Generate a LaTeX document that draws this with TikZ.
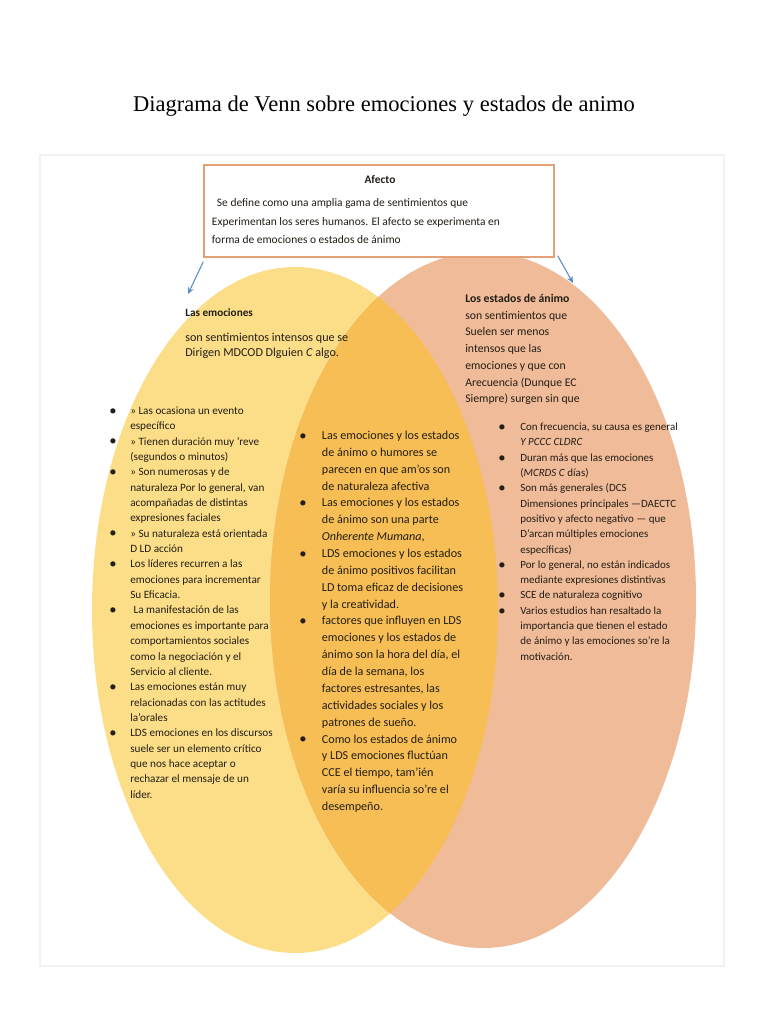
\documentclass[tikz,border=0pt]{standalone}
\usepackage{fontspec}
\setmainfont{Carlito}
\newfontfamily\titlefont{Liberation Serif}
\usetikzlibrary{arrows.meta}
\definecolor{yel}{RGB}{252,222,136}
\definecolor{sal}{RGB}{240,187,152}
\definecolor{midc}{RGB}{246,190,84}
\definecolor{boxline}{RGB}{228,160,118}
\definecolor{arrowc}{RGB}{91,140,196}
\definecolor{txt}{RGB}{35,30,22}
\definecolor{framec}{RGB}{242,242,244}
\newcommand{\bl}{\raisebox{-0.6pt}{\fontsize{11}{11}\selectfont\textbullet}}
\tikzset{
  txtblock/.style={anchor=base west, inner sep=0pt, text=txt},
  conn/.style={draw=arrowc, line width=0.8pt, -{Stealth[length=5pt,width=4.5pt]}}
}
\begin{document}
\begin{tikzpicture}[x=0.75pt,y=-0.75pt]
\useasboundingbox (0,0) rectangle (768,1024);
\fill[white] (0,0) rectangle (768,1024);
\draw[framec, line width=0.8pt] (40,155) rectangle (724,966);

% Venn
\fill[yel] (295,610) ellipse [x radius=203, y radius=343];
\fill[sal] (483,600) ellipse [x radius=213, y radius=348];
\begin{scope}
  \clip (295,610) ellipse [x radius=203, y radius=343];
  \fill[midc] (483,600) ellipse [x radius=213, y radius=348];
\end{scope}

% Title
\node[anchor=base, inner sep=0pt, font=\titlefont\fontsize{16.9}{20}\selectfont] (title) at (384,112)
  {Diagrama de Venn sobre emociones y estados de animo};

% Afecto box
\node[draw=boxline, line width=1.1pt, fill=white, minimum width=262.5pt, minimum height=69pt, inner sep=0pt] (afecto) at (379,211) {};
\node[anchor=base, inner sep=0pt, text=txt, font=\fontsize{8.6}{13.75}\selectfont\bfseries] (afectot) at (380,183.3) {Afecto};
\node[txtblock, font=\fontsize{8.6}{13.75}\selectfont] (afectotxt) at (211.7,206.7)
  {\begin{tabular}[t]{@{}l@{}}
  \hspace*{3.75pt}Se define como una amplia gama de sentimientos que\\
  Experimentan los seres humanos. El afecto se experimenta en\\
  forma de emociones o estados de ánimo
  \end{tabular}};

% arrows
\coordinate (emotip) at (188,294);
\coordinate (esttip) at (573,283);
\draw[conn] ([yshift=-3pt]afecto.south west) -- (emotip);
\draw[conn] ([xshift=2.25pt,yshift=1.5pt]afecto.south east) -- (esttip);

% Left heading
\node[txtblock, font=\fontsize{8.4}{12}\selectfont\bfseries] (emohead) at (185,316) {Las emociones};
\node[txtblock, font=\fontsize{9.1}{11.25}\selectfont] (emodef) at (185,341.7)
  {\begin{tabular}[t]{@{}l@{}}
  son sentimientos intensos que se\\
  Dirigen MDCOD Dlguien \textit{C} algo.
  \end{tabular}};

% Right heading
\node[txtblock, font=\fontsize{8.8}{12.56}\selectfont] (esthead) at (465,302.3)
  {\begin{tabular}[t]{@{}l@{}}
  \textbf{Los estados de ánimo}\\
  son sentimientos que\\
  Suelen ser menos\\
  intensos que las\\
  emociones y que con\\
  Arecuencia (Dunque EC\\
  Siempre) surgen sin que
  \end{tabular}};

% Left list
\node[txtblock, font=\fontsize{8.4}{11.52}\selectfont] (emolist) at (109,414.3)
  {\begin{tabular}[t]{@{}p{15.75pt}@{}l@{}}
  \bl & » Las ocasiona un evento\\
      & específico\\
  \bl & » Tienen duración muy 'reve\\
      & (segundos o minutos)\\
  \bl & » Son numerosas y de\\
      & naturaleza Por lo general, van\\
      & acompañadas de distintas\\
      & expresiones faciales\\
  \bl & » Su naturaleza está orientada\\
      & D LD acción\\
  \bl & Los líderes recurren a las\\
      & emociones para incrementar\\
      & Su Eficacia.\\
  \bl & \hspace*{2.5pt}La manifestación de las\\
      & emociones es importante para\\
      & comportamientos sociales\\
      & como la negociación y el\\
      & Servicio al cliente.\\
  \bl & Las emociones están muy\\
      & relacionadas con las actitudes\\
      & la'orales\\
  \bl & LDS emociones en los discursos\\
      & suele ser un elemento crítico\\
      & que nos hace aceptar o\\
      & rechazar el mensaje de un\\
      & líder.
  \end{tabular}};

% Middle list
\node[txtblock, font=\fontsize{9.1}{12.65}\selectfont] (bothlist) at (299,439.4)
  {\begin{tabular}[t]{@{}p{17pt}@{}l@{}}
  \bl & Las emociones y los estados\\
      & de ánimo o humores se\\
      & parecen en que am'os son\\
      & de naturaleza afectiva\\
  \bl & Las emociones y los estados\\
      & de ánimo son una parte\\
      & \textit{Onherente Mumana},\\
  \bl & LDS emociones y los estados\\
      & de ánimo positivos facilitan\\
      & LD toma eficaz de decisiones\\
      & y la creatividad.\\
  \bl & factores que influyen en LDS\\
      & emociones y los estados de\\
      & ánimo son la hora del día, el\\
      & día de la semana, los\\
      & factores estresantes, las\\
      & actividades sociales y los\\
      & patrones de sueño.\\
  \bl & Como los estados de ánimo\\
      & y LDS emociones fluctúan\\
      & CCE el tiempo, tam'ién\\
      & varía su influencia so're el\\
      & desempeño.
  \end{tabular}};

% Right list
\node[txtblock, font=\fontsize{8.25}{11.47}\selectfont] (estlist) at (498,430.7)
  {\begin{tabular}[t]{@{}p{16.5pt}@{}l@{}}
  \bl & Con frecuencia, su causa es general\\
      & \textit{Y PCCC CLDRC}\\
  \bl & Duran más que las emociones\\
      & (\textit{MCRDS C} días)\\
  \bl & Son más generales (DCS\\
      & Dimensiones principales —DAECTC\\
      & positivo y afecto negativo — que\\
      & D'arcan múltiples emociones\\
      & específicas)\\
  \bl & Por lo general, no están indicados\\
      & mediante expresiones distintivas\\
  \bl & SCE de naturaleza cognitivo\\
  \bl & Varios estudios han resaltado la\\
      & importancia que tienen el estado\\
      & de ánimo y las emociones so're la\\
      & motivación.
  \end{tabular}};
\end{tikzpicture}
\end{document}
